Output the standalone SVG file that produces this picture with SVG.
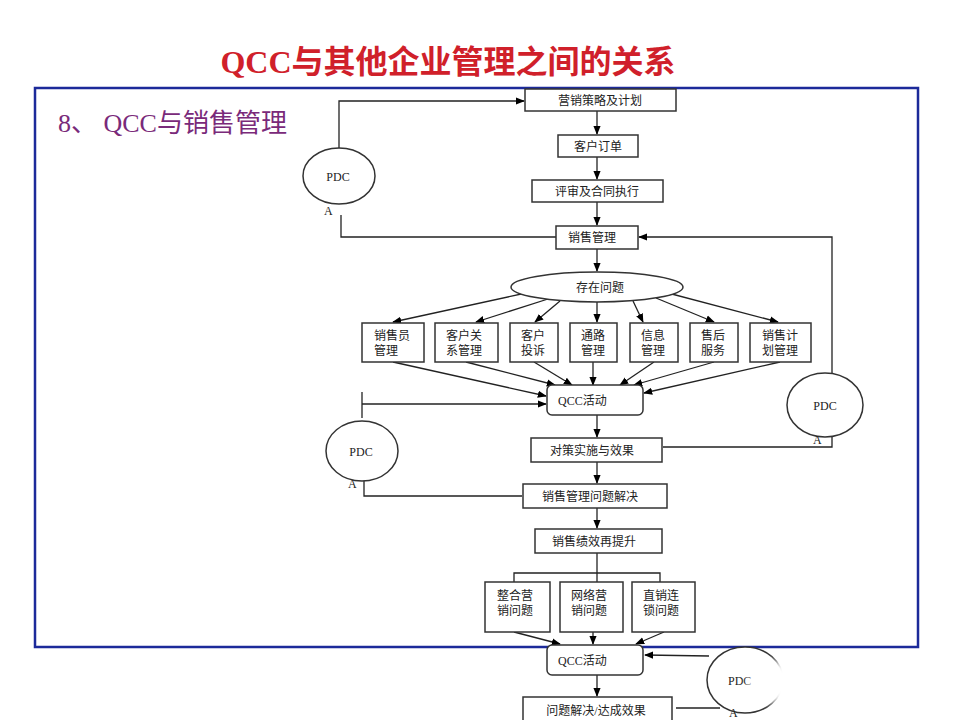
<svg xmlns="http://www.w3.org/2000/svg" width="960" height="720" viewBox="0 0 960 720">
<defs>
<marker id="ar" viewBox="0 0 10 10" refX="9" refY="5" markerWidth="7" markerHeight="7" orient="auto"><path d="M0,1 L10,5 L0,9 z" fill="#000"/></marker>
<filter id="blur" x="-50%" y="-50%" width="200%" height="200%"><feGaussianBlur stdDeviation="6"/></filter>
</defs>
<style>
.b{fill:#fff;stroke:#333;stroke-width:1.5}
.t{font-family:"Liberation Serif","Noto Sans CJK SC",serif;font-size:12px;fill:#222}
.c{text-anchor:middle}
.l{fill:none;stroke:#222;stroke-width:1.3}
.a{marker-end:url(#ar)}
</style>
<rect width="960" height="720" fill="#fff"/>
<text x="448" y="73" class="c" font-family="Liberation Serif,'Noto Sans CJK SC',serif" font-size="32" font-weight="bold" fill="#d0202a">QCC与其他企业管理之间的关系</text>
<rect x="35" y="88" width="883" height="559" fill="none" stroke="#1c2a9a" stroke-width="2.5"/>
<text x="58" y="132" font-family="Liberation Serif,'Noto Sans CJK SC',serif" font-size="26" fill="#7a2a7a">8、 QCC与销售管理</text>

<g id="connectors">
<line class="l a" x1="597" y1="111" x2="597" y2="134"/>
<line class="l a" x1="597" y1="157" x2="597" y2="179"/>
<line class="l a" x1="597" y1="202" x2="597" y2="225"/>
<line class="l a" x1="597" y1="249" x2="597" y2="271"/>
<polyline class="l a" points="339,148 339,101 524,101"/>
<polyline class="l" points="341,215 341,237 556,237"/>
<polyline class="l a" points="832,373 832,237 639,237"/>
<line class="l a" x1="526" y1="293" x2="393" y2="322"/>
<line class="l a" x1="548" y1="299" x2="476" y2="322"/>
<line class="l a" x1="560" y1="301" x2="535" y2="322"/>
<line class="l a" x1="597" y1="302" x2="597" y2="322"/>
<line class="l a" x1="633" y1="301" x2="643" y2="322"/>
<line class="l a" x1="656" y1="298" x2="714" y2="322"/>
<line class="l a" x1="668" y1="293" x2="778" y2="322"/>
<line class="l a" x1="393" y1="362" x2="546" y2="396"/>
<line class="l a" x1="466" y1="362" x2="555" y2="385"/>
<line class="l a" x1="534" y1="362" x2="572" y2="385"/>
<line class="l a" x1="593" y1="362" x2="593" y2="385"/>
<line class="l a" x1="654" y1="362" x2="620" y2="385"/>
<line class="l a" x1="714" y1="362" x2="634" y2="385"/>
<line class="l a" x1="780" y1="362" x2="644" y2="393"/>
<line class="l" x1="362" y1="392" x2="362" y2="418"/>
<line class="l a" x1="362" y1="404" x2="546" y2="404"/>
<line class="l a" x1="597" y1="415" x2="597" y2="437"/>
<polyline class="l" points="832,430 832,447 663,447"/>
<line class="l a" x1="597" y1="462" x2="597" y2="483"/>
<polyline class="l" points="364,476 364,496 522,496"/>
<line class="l a" x1="597" y1="508" x2="597" y2="528"/>
<line class="l" x1="597" y1="553" x2="597" y2="582"/>
<polyline class="l" points="514,582 514,573 660,573 660,582"/>
<line class="l a" x1="514" y1="632" x2="560" y2="644"/>
<line class="l a" x1="593" y1="632" x2="593" y2="644"/>
<line class="l a" x1="664" y1="632" x2="636" y2="644"/>
<line class="l a" x1="709" y1="656" x2="645" y2="655"/>
<line class="l a" x1="597" y1="675" x2="597" y2="696"/>
<line class="l" x1="676" y1="708" x2="720" y2="708"/>
</g>

<g id="n1"><rect class="b" x="525" y="89" width="151" height="22"/><text class="t c" x="600" y="105">营销策略及计划</text></g>
<g id="n2"><rect class="b" x="558" y="135" width="80" height="22"/><text class="t c" x="598" y="151">客户订单</text></g>
<g id="n3"><rect class="b" x="532" y="180" width="131" height="22"/><text class="t c" x="597" y="196">评审及合同执行</text></g>
<g id="n4"><rect class="b" x="556" y="226" width="82" height="23"/><text class="t c" x="592" y="242">销售管理</text></g>
<g id="n5"><ellipse class="b" cx="597" cy="287" rx="86" ry="15"/><text class="t c" x="600" y="292">存在问题</text></g>
<g id="s1"><rect class="b" x="362" y="323" width="62" height="39"/><text class="t" x="374" y="340">销售员</text><text class="t" x="374" y="355">管理</text></g>
<g id="s2"><rect class="b" x="435" y="323" width="63" height="39"/><text class="t" x="446" y="340">客户关</text><text class="t" x="446" y="355">系管理</text></g>
<g id="s3"><rect class="b" x="510" y="323" width="48" height="39"/><text class="t" x="521" y="340">客户</text><text class="t" x="521" y="355">投诉</text></g>
<g id="s4"><rect class="b" x="570" y="323" width="47" height="39"/><text class="t" x="581" y="340">通路</text><text class="t" x="581" y="355">管理</text></g>
<g id="s5"><rect class="b" x="630" y="323" width="48" height="39"/><text class="t" x="641" y="340">信息</text><text class="t" x="641" y="355">管理</text></g>
<g id="s6"><rect class="b" x="690" y="323" width="48" height="39"/><text class="t" x="701" y="340">售后</text><text class="t" x="701" y="355">服务</text></g>
<g id="s7"><rect class="b" x="750" y="323" width="61" height="39"/><text class="t" x="762" y="340">销售计</text><text class="t" x="762" y="355">划管理</text></g>
<g id="q1"><rect class="b" x="547" y="385" width="96" height="30" rx="5"/><text class="t" x="558" y="405">QCC活动</text></g>
<g id="n6"><rect class="b" x="531" y="438" width="131" height="24"/><text class="t c" x="592" y="455">对策实施与效果</text></g>
<g id="n7"><rect class="b" x="523" y="484" width="144" height="24"/><text class="t c" x="590" y="501">销售管理问题解决</text></g>
<g id="n8"><rect class="b" x="535" y="529" width="127" height="24"/><text class="t c" x="594" y="546">销售绩效再提升</text></g>
<g id="m1"><rect class="b" x="485" y="582" width="65" height="50"/><text class="t" x="497" y="600">整合营</text><text class="t" x="497" y="615">销问题</text></g>
<g id="m2"><rect class="b" x="560" y="582" width="63" height="50"/><text class="t" x="571" y="600">网络营</text><text class="t" x="571" y="615">销问题</text></g>
<g id="m3"><rect class="b" x="632" y="582" width="63" height="50"/><text class="t" x="643" y="600">直销连</text><text class="t" x="643" y="615">锁问题</text></g>
<g id="q2"><rect class="b" x="547" y="645" width="96" height="30" rx="5"/><text class="t" x="558" y="665">QCC活动</text></g>
<g id="n9"><rect class="b" x="523" y="697" width="149" height="26"/><text class="t c" x="596" y="715">问题解决/达成效果</text></g>
<g id="p1"><ellipse class="b" cx="339" cy="176" rx="36" ry="28"/><text class="t c" x="338" y="181">PDC</text><text class="t" x="324" y="215">A</text></g>
<g id="p2"><ellipse class="b" cx="825" cy="405" rx="38" ry="32"/><text class="t c" x="825" y="410">PDC</text><text class="t" x="813" y="444">A</text></g>
<g id="p3"><ellipse class="b" cx="362" cy="451" rx="36" ry="30"/><text class="t c" x="361" y="456">PDC</text><text class="t" x="348" y="488">A</text></g>
<g id="p4"><ellipse class="b" cx="745" cy="680" rx="38" ry="33"/><text class="t" x="728" y="685">PDC</text><text class="t" x="729" y="717">A</text></g>
<ellipse cx="790" cy="683" rx="40" ry="22" fill="#fff" filter="url(#blur)"/>
<rect x="775" y="665" width="140" height="30" fill="#fff" filter="url(#blur)"/>
</svg>
